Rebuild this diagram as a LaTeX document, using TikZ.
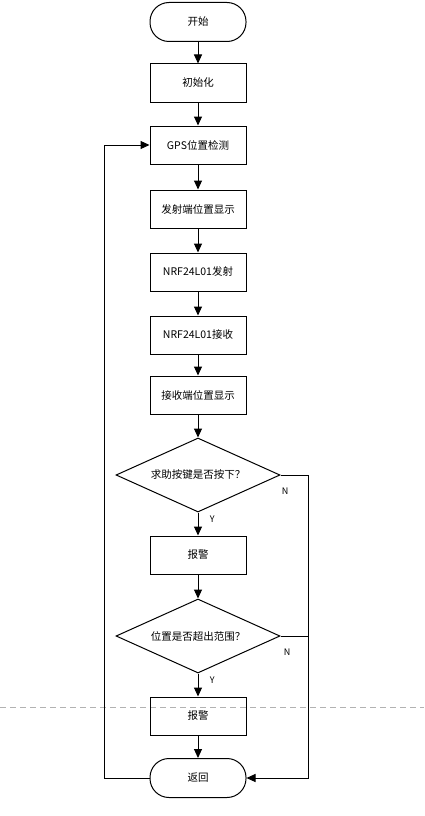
\documentclass[tikz,border=0pt]{standalone}
\usepackage{fontspec}
\setmainfont{Noto Sans CJK SC}
\usetikzlibrary{arrows.meta,shapes.geometric}

\tikzset{
  proc/.style={draw,line width=1pt,minimum width=96pt,minimum height=38pt,inner sep=0pt},
  term/.style={draw,line width=1pt,rounded corners=19pt,minimum width=96pt,minimum height=39pt,inner sep=0pt},
  decide/.style={draw,line width=1pt,diamond,aspect=2.2,minimum width=164pt,minimum height=74pt,inner sep=0pt},
  arr/.style={line width=1pt,-{Triangle[length=9pt,width=8pt]}},
  lbl/.style={font=\fontsize{9}{11}\selectfont}
}

\begin{document}
\begin{tikzpicture}[x=1pt,y=-1pt,font=\fontsize{10.5}{12}\selectfont]
        \useasboundingbox[fill=white] (0,0) rectangle (424,816);

        % page break line
        \draw[gray!60,dash pattern=on 6pt off 4pt] (0,707) -- (424,707);

        % main chain
        \node[term] (start) at (198,22) {开始};
        \node[proc] (init) at (198,83) {初始化};
        \node[proc] (gps) at (198,145) {GPS位置检测};
        \node[proc] (txshow) at (198,209) {发射端位置显示};
        \node[proc] (tx) at (198,272) {NRF24L01发射};
        \node[proc] (rx) at (198,335) {NRF24L01接收};
        \node[proc] (rxshow) at (198,395) {接收端位置显示};
        \node[decide] (ask) at (198,475) {求助按键是否按下？};
        \node[proc] (alarm1) at (198,555) {报警};
        \node[decide] (range) at (198,636) {位置是否超出范围？};
        \node[proc] (alarm2) at (198,716) {报警};
        \node[term] (back) at (198,778) {返回};

        \draw[arr] (start) -- (init);
        \draw[arr] (init) -- (gps);
        \draw[arr] (gps) -- (txshow);
        \draw[arr] (txshow) -- (tx);
        \draw[arr] (tx) -- (rx);
        \draw[arr] (rx) -- (rxshow);
        \draw[arr] (rxshow) -- (ask);
        \draw[arr] (ask) -- node[lbl,right=8pt,pos=0.3] {Y} (alarm1);
        \draw[arr] (alarm1) -- (range);
        \draw[arr] (range) -- node[lbl,right=8pt,pos=0.3] {Y} (alarm2);
        \draw[arr] (alarm2) -- (back);

        % loop back to GPS
        \coordinate (loopL) at (104,778);
        \draw[arr] (back.west) -- (loopL) |- (gps.west);

        % N branches
        \coordinate (loopR) at (308,475);
        \draw[arr] (ask.east) -- (loopR) |- (back.east);
        \draw[line width=1pt] (range.east) -- (range.east -| loopR);
        \node[lbl] (n1) at (285,491) {N};
        \node[lbl] (n2) at (287,652) {N};
    \end{tikzpicture}
\end{document}
